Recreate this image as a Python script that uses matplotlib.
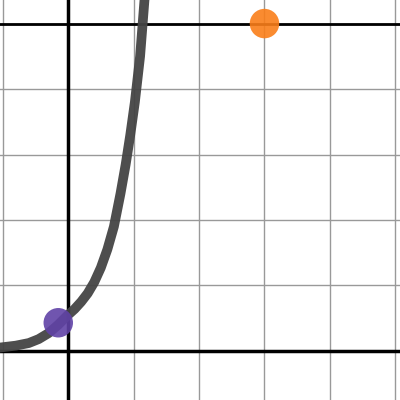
import matplotlib
matplotlib.use("Agg")
import matplotlib.pyplot as plt

curve_x = [-1.05, -0.8, -0.6, -0.45, -0.3, -0.15, 0.0, 0.1, 0.2, 0.3, 0.4, 0.5, 0.6, 0.7, 0.8, 0.88, 0.95, 1.02, 1.1, 1.17]
curve_y = [0.05, 0.08, 0.12, 0.18, 0.27, 0.4, 0.55, 0.64, 0.75, 0.88, 1.05, 1.27, 1.55, 1.9, 2.4, 2.85, 3.3, 3.8, 4.5, 5.4]
pt_purple = (-0.15, 0.43)
pt_orange = (3.0, 5.0)
hline_y = 5.0

fig = plt.figure(figsize=(4, 4), dpi=100)
ax = fig.add_axes([0, 0, 1, 1])
ax.set_xlim(-1.04, 5.07)
ax.set_ylim(-0.75, 5.36)
for v in range(-1, 6):
    ax.axvline(v, color='#999999', lw=1, zorder=0)
    ax.axhline(v, color='#999999', lw=1, zorder=0)
ax.axvline(0, color='black', lw=2.5, zorder=1)
ax.axhline(0, color='black', lw=2.5, zorder=1)
ax.axhline(hline_y, color='black', lw=2, zorder=1)
ax.plot(curve_x, curve_y, color='#444444', lw=7, alpha=0.95, solid_capstyle='round', solid_joinstyle='round', zorder=2)
ax.scatter(*pt_purple, s=450, color='#6042a6', alpha=0.9, zorder=3, edgecolors='none')
ax.scatter(*pt_orange, s=450, color='#fa7e19', alpha=0.9, zorder=3, edgecolors='none')
ax.set_xticks([]); ax.set_yticks([])
for s in ax.spines.values():
    s.set_visible(False)
fig.savefig("out.png", dpi=100)
